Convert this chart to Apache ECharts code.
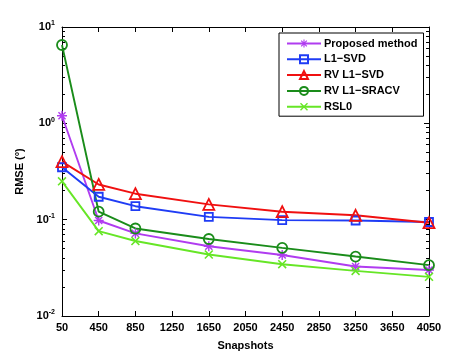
<!DOCTYPE html>
<html><head><meta charset="utf-8">
<script src="https://cdn.jsdelivr.net/npm/echarts@6/dist/echarts.min.js"></script>
<style>html,body{margin:0;padding:0;background:#fff}#c{width:474px;height:356px}</style>
</head><body><div id="c"></div>
<script>
const snapshots = [50, 450, 850, 1650, 2450, 3250, 4050];
const xTickLabels = [50, 450, 850, 1250, 1650, 2050, 2450, 2850, 3250, 3650, 4050];
const yMajorTicks = [0.01, 0.1, 1, 10];
const yMinorTicks = [0.02,0.03,0.04,0.05,0.06,0.07,0.08,0.09,0.2,0.3,0.4,0.5,0.6,0.7,0.8,0.9,2,3,4,5,6,7,8,9];
const seriesNames = ['Proposed method', 'L1\u2212SVD', 'RV L1\u2212SVD', 'RV L1\u2212SRACV', 'RSL0'];
const proposed = [1.2, 0.098, 0.072, 0.053, 0.043, 0.0326, 0.030];
const l1svd = [0.35, 0.173, 0.138, 0.107, 0.099, 0.098, 0.0946];
const rvl1svd = [0.40, 0.232, 0.186, 0.144, 0.121, 0.111, 0.093];
const rvl1sracv = [6.5, 0.121, 0.081, 0.063, 0.051, 0.0414, 0.0337];
const rsl0 = [0.25, 0.076, 0.060, 0.0435, 0.0345, 0.0294, 0.0255];

const FONT = 'Liberation Sans';
const asterisk = 'path://M8.6,0H11.4V20H8.6Z M0,8.6H20V11.4H0Z M1.9,3.9L3.9,1.9L18.1,16.1L16.1,18.1Z M16.1,1.9L18.1,3.9L3.9,18.1L1.9,16.1Z';
const cross = 'path://M1.9,3.9L3.9,1.9L18.1,16.1L16.1,18.1Z M16.1,1.9L18.1,3.9L3.9,18.1L1.9,16.1Z';

function pairs(vals){ return snapshots.map((x,i)=>[x, vals[i]]); }
function mk(name, vals, color, symbol, size, filled){
  return {
    name, type:'line', data: pairs(vals), xAxisIndex:0, yAxisIndex:0,
    symbol, symbolSize:size, showSymbol:true,
    lineStyle:{color, width:1.9},
    itemStyle: filled ? {color} : {color:'rgba(255,255,255,0)', borderColor:color, borderWidth:1.8},
    emphasis:{disabled:true}, animation:false
  };
}
const common = {min:50, max:4050};
const chart = echarts.init(document.getElementById('c'));
chart.setOption({
  backgroundColor:'#fff',
  animation:false,
  grid:{left:62, top:27, right:45, bottom:39, containLabel:false},
  xAxis:[
    {type:'value', position:'bottom', ...common,
     name:'Snapshots', nameLocation:'middle', nameGap:24,
     nameTextStyle:{fontFamily:FONT, fontWeight:'bold', fontSize:11, color:'#000'},
     axisLine:{lineStyle:{color:'#000', width:1}},
     axisTick:{inside:true, length:5, customValues:xTickLabels, lineStyle:{color:'#000'}},
     axisLabel:{customValues:xTickLabels, formatter:v=>String(v), fontFamily:FONT, fontWeight:'bold', fontSize:11, color:'#000', margin:6},
     splitLine:{show:false}},
    {type:'value', position:'top', ...common,
     axisLine:{lineStyle:{color:'#000', width:1}},
     axisTick:{inside:true, length:5, customValues:xTickLabels, lineStyle:{color:'#000'}},
     axisLabel:{show:false}, splitLine:{show:false}}
  ],
  yAxis:[
    {type:'log', logBase:10, min:0.01, max:10, position:'left',
     name:'RMSE (\u00b0)', nameLocation:'middle', nameGap:27, nameRotate:90,
     nameTextStyle:{fontFamily:FONT, fontWeight:'bold', fontSize:11, color:'#000'},
     axisLine:{show:true, lineStyle:{color:'#000', width:1}},
     axisTick:{inside:true, length:5, customValues:yMajorTicks, lineStyle:{color:'#000'}},
     axisLabel:{customValues:yMajorTicks, margin:7,
       formatter:v=>'{b|10}{s|'+Math.round(Math.log10(v))+'}',
       rich:{b:{fontFamily:FONT, fontWeight:'bold', fontSize:11, color:'#000'},
             s:{fontFamily:FONT, fontWeight:'bold', fontSize:7, color:'#000', padding:[0,0,7,0]}}},
     splitLine:{show:false}},
    {type:'log', logBase:10, min:0.01, max:10, position:'left',
     axisLine:{show:false},
     axisTick:{inside:true, length:3, customValues:yMinorTicks, lineStyle:{color:'#000'}},
     axisLabel:{show:false}, splitLine:{show:false}},
    {type:'log', logBase:10, min:0.01, max:10, position:'right',
     axisLine:{show:true, lineStyle:{color:'#000', width:1}},
     axisTick:{inside:true, length:5, customValues:yMajorTicks, lineStyle:{color:'#000'}},
     axisLabel:{show:false}, splitLine:{show:false}},
    {type:'log', logBase:10, min:0.01, max:10, position:'right',
     axisLine:{show:false},
     axisTick:{inside:true, length:3, customValues:yMinorTicks, lineStyle:{color:'#000'}},
     axisLabel:{show:false}, splitLine:{show:false}}
  ],
  legend:{
    orient:'vertical', left:279, top:33, width:130,
    backgroundColor:'#fff', borderColor:'#000', borderWidth:1, borderRadius:0,
    padding:[5,6,4,7], itemWidth:34, itemHeight:10, itemGap:4.8,
    textStyle:{fontFamily:FONT, fontWeight:'bold', fontSize:11, color:'#000', padding:[0,0,0,-2]},
    data:seriesNames
  },
  series:[
    mk(seriesNames[0], proposed, '#b03cf0', asterisk, 10, true),
    mk(seriesNames[1], l1svd, '#1f3cf5', 'rect', 8, false),
    mk(seriesNames[2], rvl1svd, '#f01010', 'triangle', 11, false),
    mk(seriesNames[3], rvl1sracv, '#1a8c1a', 'circle', 10, false),
    mk(seriesNames[4], rsl0, '#66e626', cross, 9, true)
  ]
});
</script></body></html>
